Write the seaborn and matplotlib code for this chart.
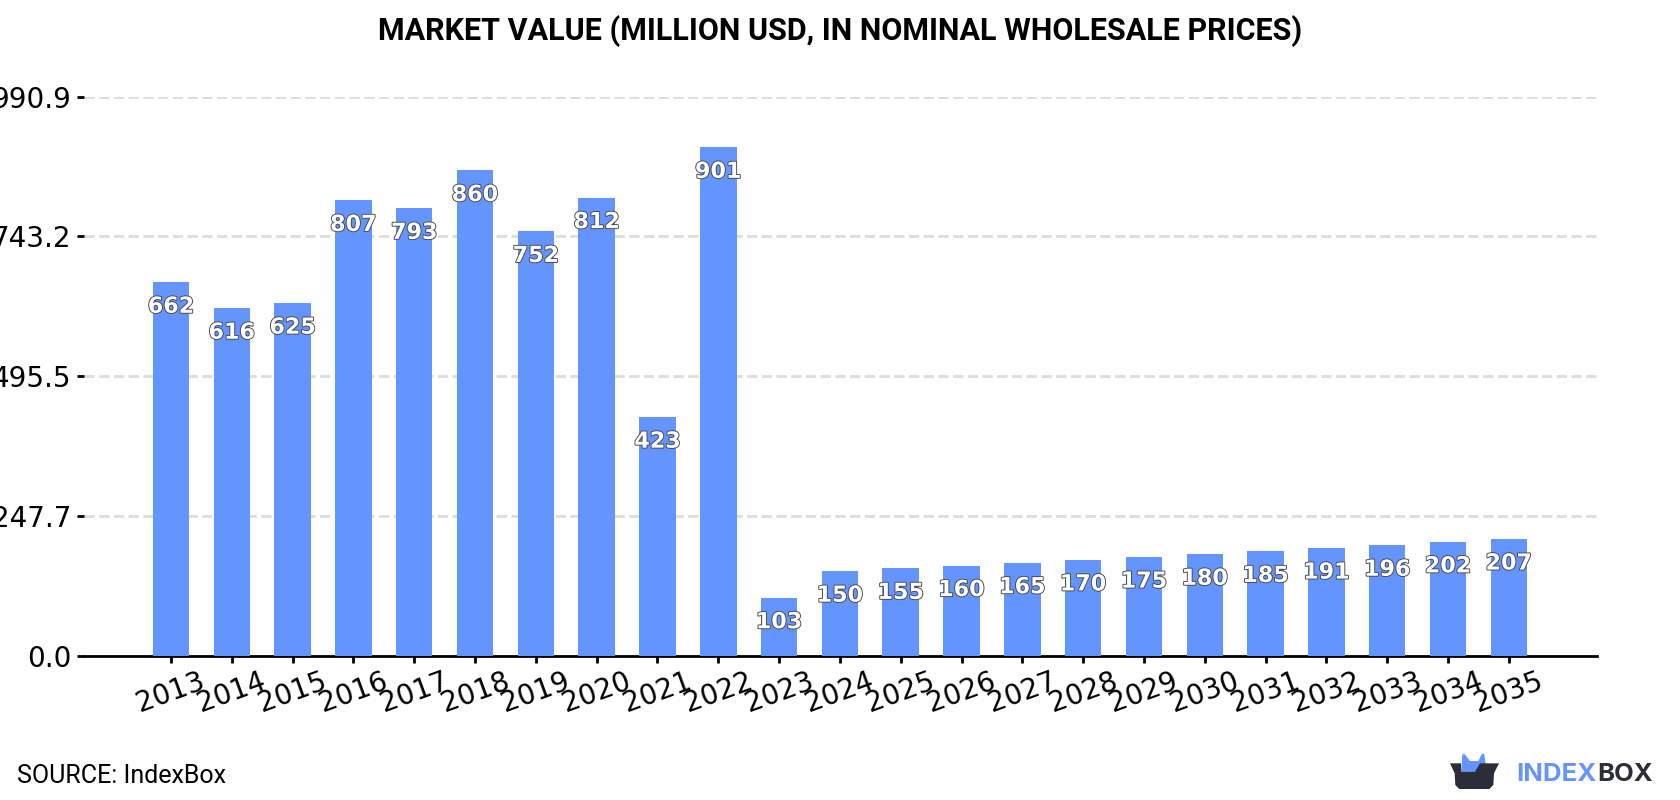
import matplotlib
matplotlib.use("Agg")
import matplotlib.pyplot as plt
import matplotlib.patheffects as pe
from matplotlib.patches import Polygon
import pandas as pd
import seaborn as sns

years = [str(y) for y in range(2013, 2036)]
values = [662, 616, 625, 807, 793, 860, 752, 812, 423, 901, 103, 150,
          155, 160, 165, 170, 175, 180, 185, 191, 196, 202, 207]
y_ticks = [0.0, 247.7, 495.5, 743.2, 990.9]

BLUE = "#6495ff"
DARK = "#2b2d38"
W, H = 1680, 800

sns.set_theme(style="white")
fig = plt.figure(figsize=(W / 100, H / 100), dpi=100, facecolor="white")
ax = fig.add_axes([84 / W, 1 - 655.8 / H, (1597 - 84) / W, (655.8 - 96.6) / H])

df = pd.DataFrame({"year": years, "value": values})
sns.barplot(data=df, x="year", y="value", color=BLUE, saturation=1, width=0.6,
            linewidth=0, ax=ax, zorder=3)

ax.set_xlim(-1.43, 23.45)
ax.set_ylim(0, y_ticks[-1])
ax.set_yticks(y_ticks)
ax.set_yticklabels([f"{t:.1f}" for t in y_ticks])
ax.set_xlabel("")
ax.set_ylabel("")
ax.grid(axis="y", color="#dddddd", linestyle=(0, (3.7, 1.6)), linewidth=2, zorder=0)
ax.set_axisbelow(True)
for side in ("top", "right", "left"):
    ax.spines[side].set_visible(False)
ax.spines["bottom"].set_linewidth(2)
ax.spines["bottom"].set_color("black")
ax.tick_params(axis="y", length=5, width=2, color="black", labelsize=20, pad=4, left=True,
               labelcolor="black")
ax.tick_params(axis="x", length=5, width=2, color="black", labelsize=20, pad=3, bottom=True,
               labelcolor="black")
plt.setp(ax.get_xticklabels(), rotation=20, ha="center", rotation_mode="default")

# value labels sit just inside the top of each bar
for i, v in enumerate(values):
    ax.annotate(str(v), (i, v), xytext=(0, -17.7), textcoords="offset points",
                ha="center", va="center", fontsize=16, fontweight="bold", color="white",
                zorder=5, path_effects=[pe.withStroke(linewidth=1.3, foreground="#444444")])

fig.text(0.5 * (353 + 1215) / 1568, 1 - 31.5 / H, "MARKET VALUE (MILLION USD, IN NOMINAL WHOLESALE PRICES)",
         ha="center", va="center", fontsize=22, fontweight="bold", family="Roboto", color="black")
fig.text(17 / W, 1 - 776 / H, "SOURCE: IndexBox", ha="left", va="center",
         fontsize=18, family="Roboto", color="black")


def logo_points(pts):
    # outline is laid out on a 3x grid anchored at the logo's corner
    return [((1380 + x / 3) / W, 1 - (720 + y / 3) / H) for x, y in pts]


# brand mark: blue flaps rising out of a dark box
fig.add_artist(Polygon(logo_points([(243, 155), (247, 105), (252, 100), (270, 123), (295, 123),
                                    (305, 103), (312, 100), (318, 135), (300, 140), (285, 155)]),
                       closed=True, facecolor=BLUE, edgecolor="none", transform=fig.transFigure))
fig.add_artist(Polygon(logo_points([(210, 130), (243, 130), (243, 155), (285, 155), (300, 130),
                                    (357, 130), (342, 160), (340, 195), (328, 207), (238, 207),
                                    (226, 195), (224, 160)]),
                       closed=True, facecolor=DARK, edgecolor="none", transform=fig.transFigure))
fig.text(1597 / W, 1 - 774.5 / H, "INDEX", ha="right", va="center", fontsize=18.5,
         fontweight="bold", family="Inter", color=BLUE)
fig.text(1597 / W, 1 - 774.5 / H, "BOX", ha="left", va="center", fontsize=18.5,
         fontweight="bold", family="Inter", color=DARK)

fig.savefig("out.png", dpi=100, facecolor="white")
